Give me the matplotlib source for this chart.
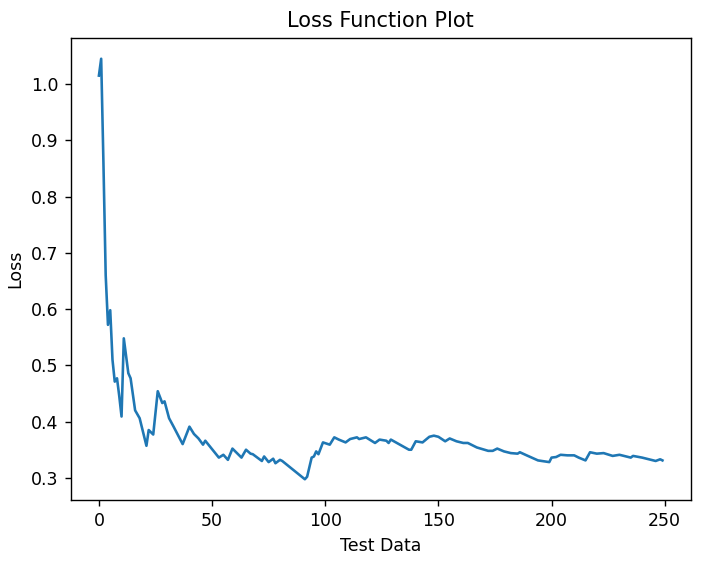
import matplotlib
matplotlib.use("Agg")
import matplotlib.pyplot as plt

# loss values at the visible vertices of the curve
test_idx = [0, 1, 2, 3, 4, 5, 6, 7, 8, 9, 10, 11, 13, 14, 16, 18, 21, 22, 24,
            26, 28, 29, 31, 33, 37, 40, 42, 44, 46, 47, 49, 53, 55, 57, 59,
            63, 65, 67, 68, 72, 73, 75, 77, 78, 80, 81, 91, 92, 94, 95, 96,
            97, 99, 102, 104, 106, 109, 111, 114, 115, 118, 122, 124, 127,
            128, 129, 137, 138, 140, 143, 146, 148, 150, 153, 155, 158, 161,
            163, 167, 172, 174, 176, 179, 182, 185, 186, 189, 194, 199, 200,
            202, 204, 207, 210, 212, 215, 217, 220, 223, 227, 230, 235, 236,
            240, 246, 248, 249]
loss_vals = [1.015, 1.045, 0.86, 0.66, 0.572, 0.598, 0.51, 0.471, 0.477, 0.445,
             0.409, 0.548, 0.486, 0.477, 0.42, 0.406, 0.357, 0.385, 0.377,
             0.454, 0.433, 0.436, 0.406, 0.391, 0.360, 0.391, 0.378, 0.370,
             0.359, 0.366, 0.356, 0.336, 0.341, 0.332, 0.352, 0.336, 0.350,
             0.343, 0.342, 0.330, 0.338, 0.328, 0.334, 0.326, 0.332, 0.330,
             0.2975, 0.302, 0.336, 0.338, 0.347, 0.342, 0.363, 0.359, 0.372,
             0.368, 0.363, 0.369, 0.372, 0.369, 0.372, 0.362, 0.368, 0.366,
             0.362, 0.368, 0.350, 0.350, 0.365, 0.363, 0.373, 0.375, 0.373,
             0.365, 0.370, 0.365, 0.362, 0.362, 0.354, 0.348, 0.348, 0.352,
             0.347, 0.344, 0.343, 0.3455, 0.340, 0.331, 0.328, 0.336, 0.337,
             0.341, 0.340, 0.340, 0.336, 0.331, 0.3455, 0.343, 0.344, 0.339,
             0.341, 0.336, 0.339, 0.336, 0.330, 0.333, 0.331]

# reference looks like the default figure rendered at dpi 125
DPI = 125
fig = plt.figure(figsize=(701 / DPI, 563 / DPI), dpi=DPI)
ax = fig.add_axes([0.1009, 0.1114, 0.8843, 0.8216])
ax.plot(test_idx, loss_vals)
ax.set_title("Loss Function Plot")
ax.set_xlabel("Test Data")
ax.set_ylabel("Loss")
fig.savefig("out.png", dpi=DPI)
